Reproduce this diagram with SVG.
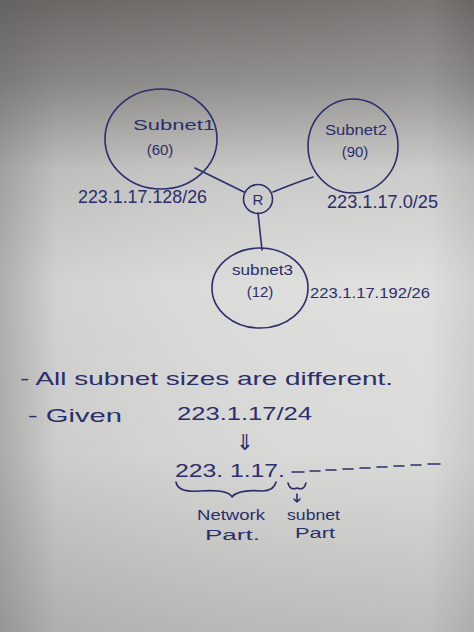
<svg xmlns="http://www.w3.org/2000/svg" width="474" height="632" viewBox="0 0 474 632">
<defs>
<linearGradient id="bgv" x1="0" y1="0" x2="0" y2="1">
<stop offset="0" stop-color="#6b6865"/>
<stop offset="0.13" stop-color="#8d8b89"/>
<stop offset="0.27" stop-color="#c6c6c4"/>
<stop offset="0.45" stop-color="#dcdcda"/>
<stop offset="0.72" stop-color="#d6d6d4"/>
<stop offset="1" stop-color="#b6b6b4"/>
</linearGradient>
<linearGradient id="bgh" x1="0" y1="0" x2="1" y2="0">
<stop offset="0" stop-color="#5a5a5a" stop-opacity="0.35"/>
<stop offset="0.12" stop-color="#5a5a5a" stop-opacity="0.08"/>
<stop offset="0.6" stop-color="#ffffff" stop-opacity="0.05"/>
<stop offset="0.9" stop-color="#ffffff" stop-opacity="0.1"/>
<stop offset="1" stop-color="#5a5a5a" stop-opacity="0.1"/>
</linearGradient>
</defs>
<style>
.ink{fill:none;stroke:#2b2e6c;stroke-width:1.6;stroke-linecap:round;stroke-linejoin:round}
.t{fill:#2b2e6c;font-family:"Liberation Sans",Arial,sans-serif}
.lbl{font-size:15px}
.big{font-size:19px}
.sm{font-size:14px}
</style>
<rect width="474" height="632" fill="url(#bgv)"/>
<rect width="474" height="632" fill="url(#bgh)"/>

<g id="connectors">
<path class="ink" d="M244,192 L195,168"/>
<path class="ink" d="M273,192 Q295,183 313,177"/>
<path class="ink" d="M258,213 Q260,232 262,250"/>
</g>

<g id="subnet1">
<ellipse class="ink" cx="161" cy="139" rx="56" ry="50"/>
<text class="t lbl" x="133" y="130" textLength="82" lengthAdjust="spacingAndGlyphs">Subnet1</text>
<text class="t lbl" x="160" y="155" text-anchor="middle">(60)</text>
<text class="t big" x="78" y="203" textLength="129" lengthAdjust="spacingAndGlyphs">223.1.17.128/26</text>
</g>

<g id="subnet2">
<ellipse class="ink" cx="353" cy="146" rx="45" ry="47"/>
<text class="t lbl" x="325" y="135" textLength="62" lengthAdjust="spacingAndGlyphs">Subnet2</text>
<text class="t lbl" x="355" y="157" text-anchor="middle">(90)</text>
<text class="t big" x="327" y="208" textLength="111" lengthAdjust="spacingAndGlyphs">223.1.17.0/25</text>
</g>

<g id="router">
<circle class="ink" cx="258" cy="199" r="14.5"/>
<text class="t lbl" x="258" y="205" text-anchor="middle">R</text>
</g>

<g id="subnet3">
<ellipse class="ink" cx="260" cy="288" rx="48" ry="40"/>
<text class="t lbl" x="232" y="275" textLength="61" lengthAdjust="spacingAndGlyphs">subnet3</text>
<text class="t lbl" x="260" y="297" text-anchor="middle">(12)</text>
<text class="t lbl" x="310" y="298" textLength="120" lengthAdjust="spacingAndGlyphs">223.1.17.192/26</text>
</g>

<g id="notes">
<text class="t big" x="20" y="385" textLength="373" lengthAdjust="spacingAndGlyphs">- All subnet sizes are different.</text>
<text class="t big" x="28" y="422" textLength="94" lengthAdjust="spacingAndGlyphs">- Given</text>
<text class="t big" x="177" y="420" textLength="135" lengthAdjust="spacingAndGlyphs">223.1.17/24</text>
<text x="245" y="450" text-anchor="middle" font-size="22" fill="#2b2e6c" font-family="'DejaVu Sans',sans-serif">⇓</text>
<text class="t big" x="175" y="477" textLength="110" lengthAdjust="spacingAndGlyphs">223. 1.17.</text>
<path class="ink" stroke-width="1.8" d="M292,472 h12 M310,471 h10 M326,470 h10 M343,469 h10 M360,468 h10 M377,467 h10 M394,466 h10 M411,465 h10 M428,464 h12"/>
<path class="ink" d="M176,482 Q178,493 200,491 Q228,489 232,497 Q238,489 262,491 Q274,491 276,482"/>
<path class="ink" d="M288,483 Q290,491 297,488 Q304,491 306,483"/>
<path class="ink" d="M297,494 v8 M294,499 l3,3 l3,-3"/>
<text class="t sm" x="197" y="520" textLength="68" lengthAdjust="spacingAndGlyphs">Network</text>
<text class="t sm" x="205" y="540" textLength="55" lengthAdjust="spacingAndGlyphs">Part.</text>
<text class="t sm" x="287" y="520" textLength="53" lengthAdjust="spacingAndGlyphs">subnet</text>
<text class="t sm" x="295" y="538" textLength="40" lengthAdjust="spacingAndGlyphs">Part</text>
</g>
</svg>
